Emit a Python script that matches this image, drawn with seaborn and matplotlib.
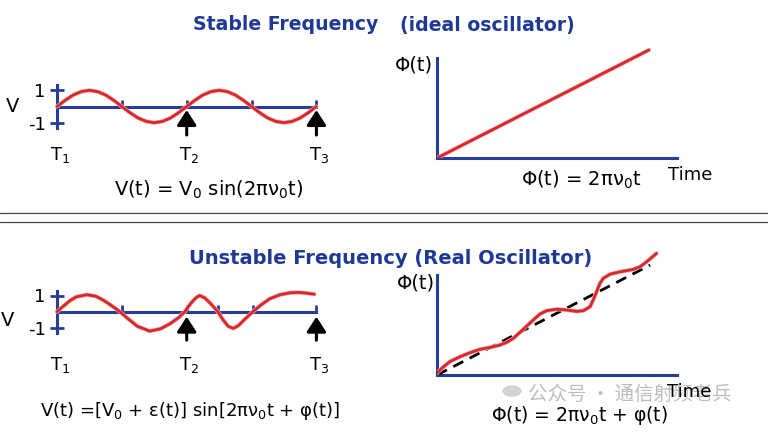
import matplotlib.pyplot as plt
import matplotlib.patheffects as pe
import seaborn as sns

# =====================================================================
# DATA
# =====================================================================
# ideal oscillator: two periods, one sample every 1/16 period
ideal_t = [0, 0.0625, 0.125, 0.1875, 0.25, 0.3125, 0.375, 0.4375, 0.5,
           0.5625, 0.625, 0.6875, 0.75, 0.8125, 0.875, 0.9375, 1.0,
           1.0625, 1.125, 1.1875, 1.25, 1.3125, 1.375, 1.4375, 1.5,
           1.5625, 1.625, 1.6875, 1.75, 1.8125, 1.875, 1.9375, 2.0]
ideal_v = [0, .38, .71, .92, 1, .92, .71, .38, 0, -.38, -.71, -.92, -1, -.92, -.71, -.38, 0,
           .38, .71, .92, 1, .92, .71, .38, 0, -.38, -.71, -.92, -1, -.92, -.71, -.38, 0]

# real oscillator: amplitude and phase wander
real_t = [0, 0.05, 0.1, 0.15, 0.23, 0.3, 0.36, 0.42, 0.485, 0.55, 0.62, 0.715, 0.8,
          0.88, 0.94, 0.985, 1.03, 1.07, 1.10, 1.14, 1.19, 1.24, 1.28, 1.32, 1.36,
          1.40, 1.45, 1.51, 1.57, 1.64, 1.72, 1.80, 1.86, 1.92, 1.985]
real_v = [0, 0.35, 0.68, 0.92, 1.05, 0.95, 0.7, 0.38, 0, -0.45, -0.9, -1.2, -1.05,
          -0.7, -0.35, 0, 0.5, 0.85, 1.0, 0.85, 0.45, 0, -0.5, -0.9, -1.03,
          -0.85, -0.45, 0, 0.4, 0.8, 1.05, 1.17, 1.19, 1.15, 1.08]

ideal_ticks = [0.5, 1.0, 1.5, 2.0]
real_ticks = [0.5, 1.0, 1.24, 1.51, 2.0]
marker_t = [1.0, 2.0]          # T2, T3 arrows
label_t = [0.0, 1.0, 2.0]      # T1, T2, T3
label_txt = ['T$_1$', 'T$_2$', 'T$_3$']

# phase vs time
ideal_phase_t = [0, 8.83]
ideal_phase = [0, 4.5]
trend_t = [0, 8.88]
trend_phase = [0, 4.58]
real_phase_t = [0, 0.20, 0.54, 0.96, 1.38, 1.79, 2.21, 2.63, 2.90, 3.18, 3.46, 3.74,
                4.01, 4.29, 4.57, 4.99, 5.40, 5.82, 6.10, 6.38, 6.51, 6.65, 6.79,
                6.93, 7.21, 7.63, 8.18, 8.46, 8.74, 8.95, 9.15]
real_phase = [0.07, 0.28, 0.56, 0.76, 0.93, 1.07, 1.15, 1.25, 1.36, 1.53, 1.78, 2.04,
              2.29, 2.54, 2.68, 2.74, 2.71, 2.65, 2.68, 2.85, 3.13, 3.47, 3.82,
              4.03, 4.20, 4.30, 4.40, 4.51, 4.72, 4.90, 5.07]

# =====================================================================
# STYLE
# =====================================================================
sns.set_theme(style="white")
plt.rcParams['font.family'] = ['DejaVu Sans', 'Noto Sans CJK SC']
plt.rcParams['mathtext.default'] = 'regular'
plt.rcParams['text.color'] = 'black'
plt.rcParams['xtick.labelcolor'] = 'black'
plt.rcParams['ytick.labelcolor'] = 'black'

BLUE = '#263d9c'
TITLE_BLUE = '#1f3a96'
RED = '#d8282c'
HALO = [pe.Stroke(linewidth=3.0, foreground='#f0a8a8'), pe.Normal()]

W, H = 768, 433
PER, AMP = 129.7, 16.2   # px per period / per volt
PX0 = 57                 # x of the oscillator origin
UNIT = 24                # px per unit on the phase plots

fig = plt.figure(figsize=(W / 100, H / 100), dpi=100)


def panel(x0, x1, y_top, y_bot):
    ax = fig.add_axes([x0 / W, 1 - y_bot / H, (x1 - x0) / W, (y_bot - y_top) / H])
    ax.patch.set_alpha(0)
    return ax


def ftext(x, y, s, **kw):
    fig.text(x / W, 1 - y / H, s, **kw)


def osc_axes(yc, ticks):
    ax = panel(PX0 - 0.1 * PER, PX0 + 2.1 * PER, yc - 1.5 * AMP, yc + 1.5 * AMP)
    ax.set_xlim(-0.1, 2.1)
    ax.set_ylim(-1.5, 1.5)
    ax.spines['top'].set_visible(False)
    ax.spines['right'].set_visible(False)
    ax.spines['left'].set_position(('data', 0))
    ax.spines['left'].set_bounds(-1.3, 1.3)
    ax.spines['bottom'].set_position(('data', 0))
    ax.spines['bottom'].set_bounds(0, 2)
    for s in ['left', 'bottom']:
        ax.spines[s].set_color(BLUE)
        ax.spines[s].set_linewidth(2.2)
    ax.set_xticks(ticks)
    ax.set_xticklabels([])
    ax.tick_params(axis='x', direction='in', length=5, width=2, color=BLUE, bottom=True)
    ax.set_yticks([-1, 1])
    ax.set_yticklabels(['-1', '1'])
    ax.tick_params(axis='y', direction='inout', length=10.5, width=2, color=BLUE,
                   left=True, labelsize=13, pad=3, labelcolor='black')
    ax.set_xlabel('')
    ax.set_ylabel('')
    return ax


def phase_axes(y0, ytop):
    ax = panel(437, 437 + 10.5 * UNIT, y0 - ytop * UNIT, y0)
    ax.set_xlim(0, 10.5)
    ax.set_ylim(0, ytop)
    ax.spines['top'].set_visible(False)
    ax.spines['right'].set_visible(False)
    ax.spines['left'].set_bounds(0, 4.17)
    ax.spines['bottom'].set_bounds(0, 10)
    for s in ['left', 'bottom']:
        ax.spines[s].set_color(BLUE)
        ax.spines[s].set_linewidth(2.2)
    ax.set_xticks([])
    ax.set_yticks([])
    return ax


def arrows(ax, tip):
    for t in marker_t:
        ax.annotate('', xy=(t, tip), xytext=(t, -1.76),
                    arrowprops=dict(arrowstyle='-|>,head_width=0.42,head_length=0.65',
                                    lw=2.2, color='black', mutation_scale=14,
                                    shrinkA=0, shrinkB=0))


# =====================================================================
# TOP: STABLE FREQUENCY
# =====================================================================
ftext(193, 25, 'Stable Frequency', color=TITLE_BLUE, fontsize=13.6, fontweight='bold', va='center')
ftext(400, 25, '(ideal oscillator)', color=TITLE_BLUE, fontsize=13.6, fontweight='bold', va='center')

ax1 = osc_axes(106.5, ideal_ticks)
sns.lineplot(x=ideal_t, y=ideal_v, color=RED, lw=2.0, ax=ax1, zorder=3)
ax1.lines[-1].set_path_effects(HALO)
arrows(ax1, -0.22)
for t, s in zip(label_t, label_txt):
    ax1.text(t + 0.02, -3.0, s, fontsize=13, ha='center', va='center')
ftext(12.5, 106, 'V', fontsize=14, ha='center', va='center')
ftext(209, 196, 'V(t) = V$_0$ sin(2πν$_0$t)', fontsize=14, ha='center', va='baseline')

ax2 = phase_axes(158, 4.6)
sns.lineplot(x=ideal_phase_t, y=ideal_phase, color=RED, lw=2.0, ax=ax2, zorder=3)
ax2.lines[-1].set_path_effects(HALO)
ftext(395, 65, 'Φ(t)', fontsize=14, ha='left', va='center')
ftext(668, 180, 'Time', fontsize=13, ha='left', va='baseline')
ftext(581, 186, 'Φ(t) = 2πν$_0$t', fontsize=14, ha='center', va='baseline')

# separator (double rule)
for y in [213.3, 222.3]:
    fig.add_artist(plt.Line2D([0, 1], [1 - y / H, 1 - y / H], transform=fig.transFigure,
                              color='#444444', lw=0.9))

# =====================================================================
# BOTTOM: UNSTABLE FREQUENCY
# =====================================================================
ftext(391, 258, 'Unstable Frequency (Real Oscillator)', color=TITLE_BLUE, fontsize=14,
      fontweight='bold', ha='center', va='center')

ax3 = osc_axes(311.7, real_ticks)
sns.lineplot(x=real_t, y=real_v, color=RED, lw=2.0, ax=ax3, zorder=3)
ax3.lines[-1].set_path_effects(HALO)
arrows(ax3, -0.31)
for t, s in zip(label_t, label_txt):
    ax3.text(t + 0.02, -3.3, s, fontsize=13, ha='center', va='center')
ftext(8, 321, 'V', fontsize=14, ha='center', va='center')
ftext(190, 416, 'V(t) =[V$_0$ + ε(t)] sin[2πν$_0$t + φ(t)]', fontsize=13, ha='center',
      va='baseline')

ax4 = phase_axes(375, 5.3)
sns.lineplot(x=trend_t, y=trend_phase, color='black', lw=2.0, ax=ax4, zorder=3)
ax4.lines[-1].set_dashes([4, 2.6])
sns.lineplot(x=real_phase_t, y=real_phase, color=RED, lw=2.0, ax=ax4, zorder=4)
ax4.lines[-1].set_path_effects(HALO)
ftext(397, 283, 'Φ(t)', fontsize=14, ha='left', va='center')

# watermark (sits under "Time" as in the source)
fig.add_artist(plt.Circle((512 / W, 1 - 391 / H), 9 / W, transform=fig.transFigure,
                          color='#c9c9c9', alpha=0.8))
ftext(528, 394, '公众号 · 通信射频老兵', fontsize=14, color='#b5b5b5', ha='left', va='center',
      family=['Noto Sans CJK SC'], alpha=0.9)
ftext(667, 397, 'Time', fontsize=13, ha='left', va='baseline')
ftext(579, 421, 'Φ(t) = 2πν$_0$t + φ(t)', fontsize=13.5, ha='center', va='baseline')

fig.savefig('out.png', dpi=100)
